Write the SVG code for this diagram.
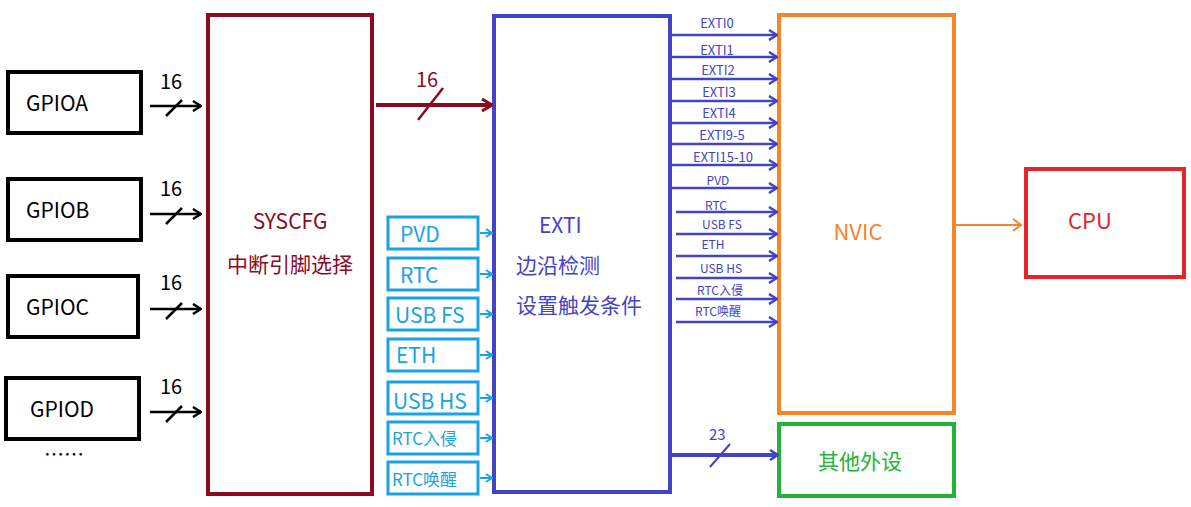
<svg xmlns="http://www.w3.org/2000/svg" width="1191" height="507" viewBox="0 0 1191 507">
<defs>
<marker id="ak" markerWidth="10" markerHeight="12" refX="9" refY="6" orient="auto" markerUnits="userSpaceOnUse"><path d="M1,1 L9,6 L1,11" fill="none" stroke="#000" stroke-width="2.5"/></marker>
<marker id="ar" markerWidth="12" markerHeight="14" refX="11" refY="7" orient="auto" markerUnits="userSpaceOnUse"><path d="M1,1 L11,7 L1,13" fill="none" stroke="#8b0a1f" stroke-width="3"/></marker>
<marker id="ab" markerWidth="10" markerHeight="12" refX="9" refY="6" orient="auto" markerUnits="userSpaceOnUse"><path d="M1,1 L9,6 L1,11" fill="none" stroke="#4343c8" stroke-width="2.5"/></marker>
<marker id="ac" markerWidth="8" markerHeight="10" refX="7" refY="5" orient="auto" markerUnits="userSpaceOnUse"><path d="M1,1 L7,5 L1,9" fill="none" stroke="#1aa3e0" stroke-width="2"/></marker>
<marker id="ao" markerWidth="10" markerHeight="14" refX="9" refY="7" orient="auto" markerUnits="userSpaceOnUse"><path d="M1,1 L9,7 L1,13" fill="none" stroke="#f5842a" stroke-width="2"/></marker>
</defs>
<style>
text{font-family:"Microsoft YaHei","Noto Sans CJK SC","Noto Sans",sans-serif}
.gp rect{fill:#fff;stroke:#000;stroke-width:4}
.gp text{font-size:21px;fill:#000}
.src rect{fill:#fff;stroke:#1aa3e0;stroke-width:3}
.src text{font-size:21px;fill:#1aa3e0}
.el{font-size:13px;fill:#4343c8;text-anchor:middle}
.kl{stroke:#000;stroke-width:2.5;fill:none}
.bl{stroke:#4343c8;stroke-width:2.5;fill:none}
.cl{stroke:#1aa3e0;stroke-width:2;fill:none}
</style>
<g id="gpioa" class="gp"><rect x="8" y="72" width="133" height="61"/><text x="26" y="111">GPIOA</text></g>
<g id="gpiob" class="gp"><rect x="8" y="179" width="133" height="61"/><text x="26" y="218">GPIOB</text></g>
<g id="gpioc" class="gp"><rect x="8" y="276" width="130" height="61"/><text x="26" y="315">GPIOC</text></g>
<g id="gpiod" class="gp"><rect x="6" y="378" width="133" height="61"/><text x="30" y="417">GPIOD</text></g>
<text x="44" y="462" font-size="20" fill="#000">……</text>
<g id="syscfg"><rect x="208" y="15" width="164" height="479" fill="#fff" stroke="#8b0a1f" stroke-width="4"/><text x="290" y="229" font-size="21" fill="#8b0a1f" text-anchor="middle">SYSCFG</text><text x="290" y="272" font-size="21" fill="#8b0a1f" text-anchor="middle">中断引脚选择</text></g>
<g id="exti"><rect x="494" y="16" width="176" height="476" fill="#fff" stroke="#4343c8" stroke-width="4"/><text x="539" y="233" font-size="21" fill="#4343c8">EXTI</text><text x="516" y="273" font-size="21" fill="#4343c8">边沿检测</text><text x="516" y="313" font-size="21" fill="#4343c8">设置触发条件</text></g>
<g id="nvic"><rect x="779" y="15" width="175" height="398" fill="#fff" stroke="#f5842a" stroke-width="4"/><text x="858" y="240" font-size="22" fill="#f5842a" text-anchor="middle">NVIC</text></g>
<g id="cpu"><rect x="1026" y="169" width="158" height="108" fill="#fff" stroke="#e8232a" stroke-width="4"/><text x="1090" y="229" font-size="22" fill="#e8232a" text-anchor="middle">CPU</text></g>
<g id="other"><rect x="779" y="424" width="175" height="72" fill="#fff" stroke="#23b33a" stroke-width="4"/><text x="860" y="469" font-size="21" fill="#23b33a" text-anchor="middle">其他外设</text></g>
<g id="pvd" class="src"><rect x="388" y="217" width="90" height="32"/><text x="400" y="242">PVD</text></g>
<g id="rtc" class="src"><rect x="388" y="258" width="90" height="32"/><text x="400" y="283">RTC</text></g>
<g id="usbfs" class="src"><rect x="388" y="298" width="90" height="32"/><text x="395" y="323">USB FS</text></g>
<g id="eth" class="src"><rect x="388" y="339" width="90" height="32"/><text x="396" y="363">ETH</text></g>
<g id="usbhs" class="src"><rect x="388" y="382" width="90" height="32"/><text x="393" y="409">USB HS</text></g>
<g id="rtcin" class="src"><rect x="388" y="422" width="90" height="32"/><text x="392" y="445" style="font-size:17px">RTC入侵</text></g>
<g id="rtcwk" class="src"><rect x="388" y="462" width="90" height="32"/><text x="392" y="486" style="font-size:17px">RTC唤醒</text></g>
<g id="connectors">
<path class="kl" d="M150,106 H201" marker-end="url(#ak)"/><path class="kl" d="M166,116 L182,100"/><text x="160" y="89" font-size="20" fill="#000">16</text>
<path class="kl" d="M150,214 H201" marker-end="url(#ak)"/><path class="kl" d="M166,224 L182,208"/><text x="160" y="196" font-size="20" fill="#000">16</text>
<path class="kl" d="M150,309 H201" marker-end="url(#ak)"/><path class="kl" d="M166,319 L182,303"/><text x="160" y="290" font-size="20" fill="#000">16</text>
<path class="kl" d="M150,412 H201" marker-end="url(#ak)"/><path class="kl" d="M166,422 L182,406"/><text x="160" y="394" font-size="20" fill="#000">16</text>
<path d="M376,105 H492" stroke="#8b0a1f" stroke-width="4" fill="none" marker-end="url(#ar)"/><path d="M418,120 L443,88" stroke="#8b0a1f" stroke-width="2.5"/><text x="416" y="87" font-size="20" fill="#8b0a1f">16</text>
<path class="cl" d="M480,233 H492" marker-end="url(#ac)"/>
<path class="cl" d="M480,274 H492" marker-end="url(#ac)"/>
<path class="cl" d="M480,314 H492" marker-end="url(#ac)"/>
<path class="cl" d="M480,355 H492" marker-end="url(#ac)"/>
<path class="cl" d="M480,398 H492" marker-end="url(#ac)"/>
<path class="cl" d="M480,438 H492" marker-end="url(#ac)"/>
<path class="cl" d="M480,478 H492" marker-end="url(#ac)"/>
<path class="bl" d="M672,35 H777" marker-end="url(#ab)"/><text class="el" x="717" y="28">EXTI0</text>
<path class="bl" d="M672,57 H777" marker-end="url(#ab)"/><text class="el" x="717" y="55">EXTI1</text>
<path class="bl" d="M672,79 H777" marker-end="url(#ab)"/><text class="el" x="718" y="75">EXTI2</text>
<path class="bl" d="M672,101 H777" marker-end="url(#ab)"/><text class="el" x="719" y="97">EXTI3</text>
<path class="bl" d="M672,123 H777" marker-end="url(#ab)"/><text class="el" x="719" y="118">EXTI4</text>
<path class="bl" d="M672,144 H777" marker-end="url(#ab)"/><text class="el" x="722" y="140">EXTI9-5</text>
<path class="bl" d="M672,165 H777" marker-end="url(#ab)"/><text class="el" x="723" y="162">EXTI15-10</text>
<path class="bl" d="M672,188 H777" marker-end="url(#ab)"/><text class="el" x="718" y="185" style="font-size:12px">PVD</text>
<path class="bl" d="M676,212 H777" marker-end="url(#ab)"/><text class="el" x="716" y="210" style="font-size:12px">RTC</text>
<path class="bl" d="M676,234 H777" marker-end="url(#ab)"/><text class="el" x="722" y="229" style="font-size:12px">USB FS</text>
<path class="bl" d="M676,256 H777" marker-end="url(#ab)"/><text class="el" x="713" y="249" style="font-size:12px">ETH</text>
<path class="bl" d="M676,278 H777" marker-end="url(#ab)"/><text class="el" x="721" y="273" style="font-size:12px">USB HS</text>
<path class="bl" d="M676,299 H777" marker-end="url(#ab)"/><text class="el" x="720" y="295" style="font-size:12px">RTC入侵</text>
<path class="bl" d="M676,322 H777" marker-end="url(#ab)"/><text class="el" x="718" y="316" style="font-size:12px">RTC唤醒</text>
<path d="M672,455 H778" stroke="#4343c8" stroke-width="4" fill="none" marker-end="url(#ab)"/><path d="M710,467 L730,444" stroke="#4343c8" stroke-width="2"/><text x="709" y="440" font-size="15" fill="#4343c8">23</text>
<path d="M956,225 H1021" stroke="#f5842a" stroke-width="2" fill="none" marker-end="url(#ao)"/>
</g>
</svg>
